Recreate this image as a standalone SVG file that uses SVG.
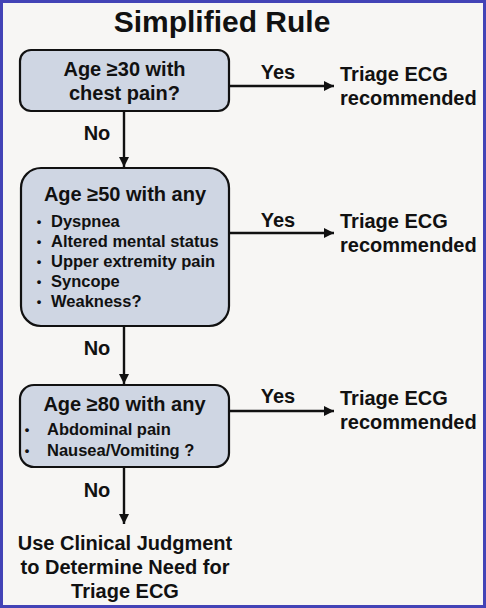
<svg xmlns="http://www.w3.org/2000/svg" width="486" height="608" viewBox="0 0 486 608">
<defs>
<style>
text{font-family:"Liberation Sans",Arial,sans-serif;font-weight:bold;fill:#111}
.t{font-size:20px}
.c{text-anchor:middle}
.b{font-size:16.5px}
.d{font-size:13px;text-anchor:middle}
.box{fill:#cfd6e3;stroke:#111;stroke-width:2.2}
.ln{stroke:#111;stroke-width:2.4;fill:none}
</style>
<marker id="ah" viewBox="0 0 10 10" refX="10" refY="5" markerWidth="4.2" markerHeight="4.2" markerUnits="strokeWidth" orient="auto">
<path d="M0,0 L10,5 L0,10 z" fill="#111"/>
</marker>
</defs>
<rect x="1.5" y="1.5" width="483" height="605" fill="#f7f6f4" stroke="#4343b6" stroke-width="3"/>
<text x="222" y="32" class="c" style="font-size:30px">Simplified Rule</text>
<g id="connectors">
<line class="ln" x1="124" y1="111" x2="124" y2="167" marker-end="url(#ah)"/>
<line class="ln" x1="124" y1="326" x2="124" y2="384" marker-end="url(#ah)"/>
<line class="ln" x1="124" y1="467" x2="124" y2="524" marker-end="url(#ah)"/>
<line class="ln" x1="229" y1="86" x2="334" y2="86" marker-end="url(#ah)"/>
<line class="ln" x1="229" y1="233" x2="334" y2="233" marker-end="url(#ah)"/>
<line class="ln" x1="229" y1="411" x2="334" y2="411" marker-end="url(#ah)"/>
<text x="97" y="140" class="t c">No</text>
<text x="97" y="355" class="t c">No</text>
<text x="97" y="497" class="t c">No</text>
<text x="278" y="79" class="t c">Yes</text>
<text x="278" y="227" class="t c">Yes</text>
<text x="278" y="403" class="t c">Yes</text>
</g>
<g id="q1">
<rect class="box" x="20" y="50" width="209" height="61" rx="11"/>
<text x="124.5" y="76" class="t c">Age ≥30 with</text>
<text x="124.5" y="100" class="t c">chest pain?</text>
</g>
<g id="q2">
<rect class="box" x="21" y="168" width="208" height="158" rx="20"/>
<text x="125" y="201" class="t c">Age ≥50 with any</text>
<text class="d" x="39" y="226">•</text><text class="b" x="51" y="227">Dyspnea</text>
<text class="d" x="39" y="246">•</text><text class="b" x="51" y="247">Altered mental status</text>
<text class="d" x="39" y="266">•</text><text class="b" x="51" y="267">Upper extremity pain</text>
<text class="d" x="39" y="286">•</text><text class="b" x="51" y="287">Syncope</text>
<text class="d" x="39" y="306">•</text><text class="b" x="51" y="307">Weakness?</text>
</g>
<g id="q3">
<rect class="box" x="20" y="385" width="209" height="82" rx="14"/>
<text x="124.5" y="411" class="t c">Age ≥80 with any</text>
<text class="d" x="27" y="434">•</text><text class="b" x="47" y="435">Abdominal pain</text>
<text class="d" x="27" y="455">•</text><text class="b" x="47" y="456">Nausea/Vomiting ?</text>
</g>
<g id="r1">
<text x="340" y="81" class="t">Triage ECG</text>
<text x="340" y="105" class="t">recommended</text>
</g>
<g id="r2">
<text x="340" y="228" class="t">Triage ECG</text>
<text x="340" y="252" class="t">recommended</text>
</g>
<g id="r3">
<text x="340" y="405" class="t">Triage ECG</text>
<text x="340" y="429" class="t">recommended</text>
</g>
<g id="end">
<text x="125" y="550" class="t c">Use Clinical Judgment</text>
<text x="125" y="574" class="t c">to Determine Need for</text>
<text x="125" y="598" class="t c">Triage ECG</text>
</g>
</svg>
